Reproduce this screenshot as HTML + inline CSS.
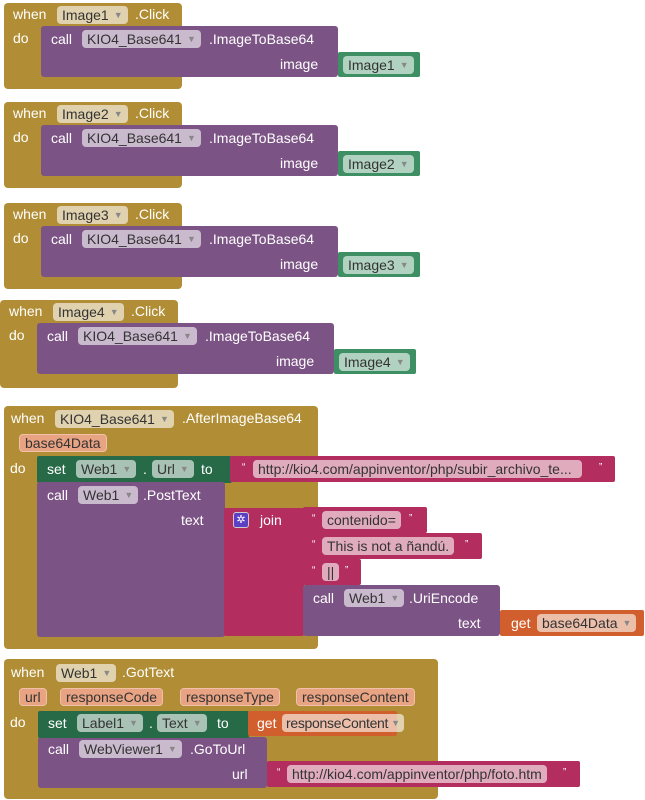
<!DOCTYPE html>
<html><head><meta charset="utf-8"><style>
html,body{margin:0;padding:0;background:#fff;width:645px;height:800px;overflow:hidden;position:relative}
div{position:absolute;box-sizing:border-box}
.g{background:#b18e35;border-radius:4px}
.p{background:#7c5385;border-radius:3px}
.gr{background:#3e8f64;border-radius:2px}
.sg{background:#266a47;border-radius:2px}
.pk{background:#b32d5e;border-radius:2px}
.or{background:#d05f2d;border-radius:2px}
.t{font:14px/20px "Liberation Sans",sans-serif;color:#fff;white-space:nowrap}
.c{font:14px/18px "Liberation Sans",sans-serif;color:#333;white-space:nowrap;background:rgba(255,255,255,.6);border-radius:4px;padding:0 5px;height:18px}
.c i{font-style:normal;font-size:9px;color:#888;margin-left:5px;vertical-align:2px}
.r{text-align:right}
</style></head><body>

<!-- Blocks 1-4 -->
<div style="left:4px;top:3px;width:420px;height:90px">
 <div class="g" style="left:0;top:0;width:178px;height:86px"></div>
 <div class="p" style="left:37px;top:23px;width:297px;height:51px"></div>
 <div class="gr" style="left:334px;top:49px;width:82px;height:25px"></div>
 <div class="t" style="left:9px;top:1px">when</div>
 <div class="c" style="left:53px;top:3px">Image1<i>▼</i></div>
 <div class="t" style="left:131px;top:1px">.Click</div>
 <div class="t" style="left:9px;top:25px">do</div>
 <div class="t" style="left:47px;top:26px">call</div>
 <div class="c" style="left:78px;top:27px">KIO4_Base641<i>▼</i></div>
 <div class="t" style="left:205px;top:26px">.ImageToBase64</div>
 <div class="t" style="left:276px;top:51px">image</div>
 <div class="c" style="left:339px;top:53px">Image1<i>▼</i></div>
</div>
<div style="left:4px;top:102px;width:420px;height:90px">
 <div class="g" style="left:0;top:0;width:178px;height:86px"></div>
 <div class="p" style="left:37px;top:23px;width:297px;height:51px"></div>
 <div class="gr" style="left:334px;top:49px;width:82px;height:25px"></div>
 <div class="t" style="left:9px;top:1px">when</div>
 <div class="c" style="left:53px;top:3px">Image2<i>▼</i></div>
 <div class="t" style="left:131px;top:1px">.Click</div>
 <div class="t" style="left:9px;top:25px">do</div>
 <div class="t" style="left:47px;top:26px">call</div>
 <div class="c" style="left:78px;top:27px">KIO4_Base641<i>▼</i></div>
 <div class="t" style="left:205px;top:26px">.ImageToBase64</div>
 <div class="t" style="left:276px;top:51px">image</div>
 <div class="c" style="left:339px;top:53px">Image2<i>▼</i></div>
</div>
<div style="left:4px;top:203px;width:420px;height:90px">
 <div class="g" style="left:0;top:0;width:178px;height:86px"></div>
 <div class="p" style="left:37px;top:23px;width:297px;height:51px"></div>
 <div class="gr" style="left:334px;top:49px;width:82px;height:25px"></div>
 <div class="t" style="left:9px;top:1px">when</div>
 <div class="c" style="left:53px;top:3px">Image3<i>▼</i></div>
 <div class="t" style="left:131px;top:1px">.Click</div>
 <div class="t" style="left:9px;top:25px">do</div>
 <div class="t" style="left:47px;top:26px">call</div>
 <div class="c" style="left:78px;top:27px">KIO4_Base641<i>▼</i></div>
 <div class="t" style="left:205px;top:26px">.ImageToBase64</div>
 <div class="t" style="left:276px;top:51px">image</div>
 <div class="c" style="left:339px;top:53px">Image3<i>▼</i></div>
</div>
<div style="left:0px;top:300px;width:420px;height:90px">
 <div class="g" style="left:0;top:0;width:178px;height:88px"></div>
 <div class="p" style="left:37px;top:23px;width:297px;height:51px"></div>
 <div class="gr" style="left:334px;top:49px;width:82px;height:25px"></div>
 <div class="t" style="left:9px;top:1px">when</div>
 <div class="c" style="left:53px;top:3px">Image4<i>▼</i></div>
 <div class="t" style="left:131px;top:1px">.Click</div>
 <div class="t" style="left:9px;top:25px">do</div>
 <div class="t" style="left:47px;top:26px">call</div>
 <div class="c" style="left:78px;top:27px">KIO4_Base641<i>▼</i></div>
 <div class="t" style="left:205px;top:26px">.ImageToBase64</div>
 <div class="t" style="left:276px;top:51px">image</div>
 <div class="c" style="left:339px;top:53px">Image4<i>▼</i></div>
</div>

<!-- Block 5 -->
<div class="g" style="left:4px;top:406px;width:314px;height:243px"></div>
<div class="t" style="left:11px;top:408px">when</div>
<div class="c" style="left:55px;top:410px">KIO4_Base641<i>▼</i></div>
<div class="t" style="left:182px;top:408px">.AfterImageBase64</div>
<div class="c" style="left:19px;top:434px;background:#e8a383;border:1px solid #f0c0a8;line-height:16px">base64Data</div>
<div class="t" style="left:10px;top:458px">do</div>
<div class="sg" style="left:37px;top:456px;width:195px;height:27px"></div>
<div class="pk" style="left:230px;top:456px;width:385px;height:26px"></div>
<div class="p" style="left:37px;top:482px;width:188px;height:155px"></div>
<div class="pk" style="left:224px;top:508px;width:80px;height:128px"></div>
<div class="t" style="left:47px;top:459px">set</div>
<div class="c" style="left:76px;top:460px">Web1<i>▼</i></div>
<div class="t" style="left:143px;top:459px">.</div>
<div class="c" style="left:152px;top:460px">Url<i>▼</i></div>
<div class="t" style="left:201px;top:459px">to</div>
<div class="t" style="left:242px;top:458px;font-size:10px">“</div>
<div class="c" style="left:253px;top:460px;padding:0 10px 0 5px">http://kio4.com/appinventor/php/subir_archivo_te...</div>
<div class="t" style="left:599px;top:458px;font-size:10px">”</div>
<div class="t" style="left:47px;top:485px">call</div>
<div class="c" style="left:78px;top:486px">Web1<i>▼</i></div>
<div class="t" style="left:143px;top:485px">.PostText</div>
<div class="t" style="left:181px;top:510px">text</div>
<div style="left:233px;top:512px;width:16px;height:16px;background:#5b3fc4;border:1px solid #ccc;border-radius:3px;color:#fff;font-size:11px;line-height:14px;text-align:center">✲</div>
<div class="t" style="left:260px;top:510px">join</div>
<div class="pk" style="left:303px;top:507px;width:124px;height:26px"></div>
<div class="t" style="left:312px;top:509px;font-size:10px">“</div>
<div class="c" style="left:322px;top:511px">contenido=</div>
<div class="t" style="left:409px;top:509px;font-size:10px">”</div>
<div class="pk" style="left:303px;top:533px;width:179px;height:26px"></div>
<div class="t" style="left:312px;top:535px;font-size:10px">“</div>
<div class="c" style="left:322px;top:537px">This is not a ñandú.</div>
<div class="t" style="left:465px;top:535px;font-size:10px">”</div>
<div class="pk" style="left:303px;top:559px;width:58px;height:26px"></div>
<div class="t" style="left:312px;top:561px;font-size:10px">“</div>
<div class="c" style="left:322px;top:563px">||</div>
<div class="t" style="left:345px;top:561px;font-size:10px">”</div>
<div class="p" style="left:303px;top:585px;width:197px;height:51px"></div>
<div class="t" style="left:313px;top:588px">call</div>
<div class="c" style="left:344px;top:589px">Web1<i>▼</i></div>
<div class="t" style="left:409px;top:588px">.UriEncode</div>
<div class="t" style="left:458px;top:613px">text</div>
<div class="or" style="left:500px;top:610px;width:144px;height:26px"></div>
<div class="t" style="left:511px;top:613px">get</div>
<div class="c" style="left:537px;top:614px">base64Data<i>▼</i></div>

<!-- Block 6 -->
<div class="g" style="left:4px;top:659px;width:434px;height:140px"></div>
<div class="p" style="left:38px;top:737px;width:229px;height:51px"></div>
<div class="sg" style="left:38px;top:711px;width:211px;height:27px"></div>
<div class="or" style="left:248px;top:711px;width:149px;height:25px"></div>
<div class="pk" style="left:267px;top:761px;width:313px;height:26px"></div>
<div class="t" style="left:11px;top:662px">when</div>
<div class="c" style="left:56px;top:664px">Web1<i>▼</i></div>
<div class="t" style="left:122px;top:662px">.GotText</div>
<div class="c" style="left:19px;top:688px;background:#e8a383;border:1px solid #f0c0a8;line-height:16px">url</div>
<div class="c" style="left:60px;top:688px;background:#e8a383;border:1px solid #f0c0a8;line-height:16px">responseCode</div>
<div class="c" style="left:180px;top:688px;background:#e8a383;border:1px solid #f0c0a8;line-height:16px">responseType</div>
<div class="c" style="left:296px;top:688px;background:#e8a383;border:1px solid #f0c0a8;line-height:16px">responseContent</div>
<div class="t" style="left:10px;top:712px">do</div>
<div class="t" style="left:48px;top:713px">set</div>
<div class="c" style="left:77px;top:714px">Label1<i>▼</i></div>
<div class="t" style="left:149px;top:713px">.</div>
<div class="c" style="left:157px;top:714px">Text<i>▼</i></div>
<div class="t" style="left:217px;top:713px">to</div>
<div class="t" style="left:257px;top:713px">get</div>
<div class="c" style="left:282px;top:714px;padding:0 4px;letter-spacing:-0.3px">responseContent<i style="margin-left:3px">▼</i></div>
<div class="t" style="left:48px;top:739px">call</div>
<div class="c" style="left:79px;top:740px">WebViewer1<i>▼</i></div>
<div class="t" style="left:190px;top:739px">.GoToUrl</div>
<div class="t" style="left:232px;top:764px">url</div>
<div class="t" style="left:277px;top:763px;font-size:10px">“</div>
<div class="c" style="left:287px;top:765px">http://kio4.com/appinventor/php/foto.htm</div>
<div class="t" style="left:563px;top:763px;font-size:10px">”</div>
</body></html>
